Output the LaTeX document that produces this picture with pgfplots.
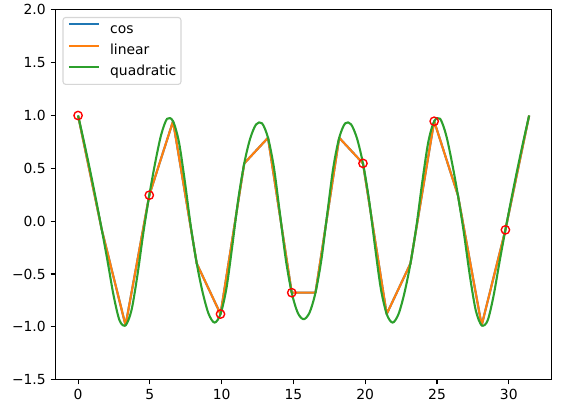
\documentclass[border=0pt]{standalone}
\usepackage{fontspec}
\setmainfont{DejaVu Sans}
\usepackage{pgfplots}
\usepackage{pgfplotstable}
\pgfplotsset{compat=1.18}
\definecolor{c0}{HTML}{1F77B4}
\definecolor{c1}{HTML}{FF7F0E}
\definecolor{c2}{HTML}{2CA02C}
\definecolor{legedge}{HTML}{D6D6D6}

\pgfplotstableread{
x y
0 1
1.65347 -0.082580
3.30694 -0.986361
4.96041 0.245485
6.61388 0.945817
8.26735 -0.401695
9.92082 -0.879474
11.57429 0.546948
13.22776 0.789141
14.88123 -0.677282
16.53470 -0.677282
18.18817 0.789141
19.84164 0.546948
21.49511 -0.879474
23.14858 -0.401695
24.80205 0.945817
26.45552 0.245485
28.10899 -0.986361
29.76246 -0.082580
31.41593 1
}\coarse

\pgfplotstableread{
x y
0 1
4.96041 0.245485
9.92082 -0.879474
14.88123 -0.677282
19.84164 0.546948
24.80205 0.945817
29.76246 -0.082580
}\every

\pgfplotstableread{
x y
0 1
0.41337 0.750495
0.82673 0.486897
1.24010 0.209206
1.65347 -0.082580
2.06684 -0.388458
2.48020 -0.708430
2.89357 -0.941422
3.30694 -0.986361
3.72031 -0.843246
4.13367 -0.512079
4.54704 -0.110092
4.96041 0.245485
5.37378 0.554647
5.78714 0.817399
6.20051 0.969275
6.61388 0.945817
7.02725 0.747023
7.44061 0.372892
7.85398 -0.051654
8.26735 -0.401695
8.68072 -0.677235
9.09408 -0.878269
9.50745 -0.960460
9.92082 -0.879474
10.33419 -0.635308
10.74755 -0.227962
11.16092 0.210233
11.57429 0.546948
11.98766 0.782184
12.40102 0.915940
12.81439 0.925748
13.22776 0.789141
13.64113 0.506120
14.05449 0.076684
14.46786 -0.363130
14.88123 -0.677282
15.29460 -0.865773
15.70796 -0.928604
16.12133 -0.865773
16.53470 -0.677282
16.94807 -0.363130
17.36144 0.076684
17.77480 0.506120
18.18817 0.789141
18.60154 0.925748
19.01491 0.915940
19.42827 0.782184
19.84164 0.546948
20.25501 0.210233
20.66838 -0.227962
21.08174 -0.635308
21.49511 -0.879474
21.90848 -0.960460
22.32185 -0.878269
22.73521 -0.677235
23.14858 -0.401695
23.56195 -0.051654
23.97532 0.372892
24.38868 0.747023
24.80205 0.945817
25.21542 0.969275
25.62879 0.817399
26.04215 0.554647
26.45552 0.245485
26.86889 -0.110092
27.28226 -0.512079
27.69562 -0.843246
28.10899 -0.986361
28.52236 -0.941422
28.93573 -0.708430
29.34909 -0.388458
29.76246 -0.082580
30.17583 0.209206
30.58920 0.486897
31.00256 0.750495
31.41593 1
}\quad

\begin{document}
\begin{tikzpicture}
\begin{axis}[
  scale only axis,
  width=357.12pt, height=266.1pt,
  xmin=-1.570796, xmax=32.986723,
  ymin=-1.5, ymax=2,
  xtick={0,5,10,15,20,25,30},
  xticklabels={0,5,10,15,20,25,30},
  ytick={-1.5,-1,-0.5,0,0.5,1,1.5,2},
  yticklabels={−1.5,−1.0,−0.5,0.0,0.5,1.0,1.5,2.0},
  tick align=outside,
  xtick pos=left, ytick pos=left,
  major tick length=3.5pt,
  every tick/.style={black, line width=0.8pt},
  axis line style={line width=0.8pt},
  tick label style={font=\fontsize{10}{12}\selectfont},
  legend cell align=left,
  legend image code/.code={\draw[#1] (0pt,3.8pt) -- (21.6pt,3.8pt);},
  legend style={
    at={(0.014,0.981)}, anchor=north west,
    draw=legedge, line width=0.8pt, rounded corners=2pt, fill=white,
    font=\fontsize{10}{12}\selectfont,
    inner xsep=3.4pt, inner ysep=3.95pt,
    row sep=5.6pt, column sep=0pt,
    nodes={inner sep=0pt, text height=7.5pt, text depth=2.2pt},
    /tikz/every odd column/.append style={column sep=7.4pt},
  },
]
\addplot[c0, line width=1.5pt, line join=round] table {\coarse};
\addlegendentry{cos}
\addplot[c1, line width=1.5pt, line join=round] table {\coarse};
\addlegendentry{linear}
\addplot[c2, line width=1.5pt, line join=round, smooth] table {\quad};
\addlegendentry{quadratic}
\addplot[only marks, mark=o, red, mark size=3pt, mark options={line width=1pt}, forget plot] table {\every};
\end{axis}
\path (current axis.south west) ++(-39.96pt,-18.94pt) coordinate (bl);
\path (current axis.north east) ++(8.14pt,6.84pt) coordinate (tr);
\path (bl) rectangle (tr);
\end{tikzpicture}
\end{document}
